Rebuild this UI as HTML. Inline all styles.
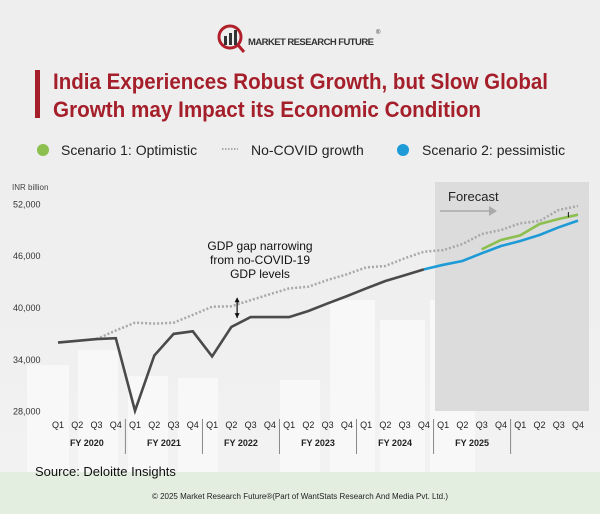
<!DOCTYPE html>
<html><head><meta charset="utf-8"><style>
html,body{margin:0;padding:0;}
body{width:600px;height:514px;overflow:hidden;font-family:"Liberation Sans",sans-serif;}
</style></head><body>
<svg id="chart" width="600" height="514" viewBox="0 0 600 514" xmlns="http://www.w3.org/2000/svg" font-family="Liberation Sans, sans-serif">
<defs>
<linearGradient id="bg" x1="0" y1="0" x2="0" y2="1">
<stop offset="0" stop-color="#eeeeee"/><stop offset="0.6" stop-color="#efefef"/><stop offset="1" stop-color="#f3f3f3"/>
</linearGradient>
</defs>
<rect x="0" y="0" width="600" height="514" fill="url(#bg)"/>
<g fill="#f8f8f8">
<rect x="27" y="365" width="42" height="150"/><rect x="78" y="350" width="40" height="165"/>
<rect x="128" y="376" width="40" height="140"/><rect x="178" y="378" width="40" height="138"/>
<rect x="280" y="380" width="40" height="136"/><rect x="330" y="300" width="45" height="216"/>
<rect x="380" y="320" width="45" height="196"/><rect x="430" y="300" width="45" height="216"/>
</g>
<rect x="0" y="472" width="600" height="42" fill="#e3eee0"/>
<g>
<circle cx="230" cy="37" r="11" fill="none" stroke="#b11f2b" stroke-width="3"/>
<rect x="224" y="36" width="3" height="9" fill="#333"/><rect x="229" y="33" width="3" height="12" fill="#333"/><rect x="234" y="30" width="3" height="15" fill="#333"/>
<line x1="238" y1="45" x2="244" y2="52" stroke="#b11f2b" stroke-width="3"/>
<text x="248" y="45" font-size="9.5" font-weight="bold" fill="#333" textLength="126">MARKET RESEARCH FUTURE</text>
<text x="376" y="34" font-size="6" fill="#333">®</text>
</g>
<rect x="35" y="70" width="5" height="48" fill="#a51f2b"/>
<text x="53" y="89" font-size="22" font-weight="bold" fill="#a51f2b" textLength="495" lengthAdjust="spacingAndGlyphs">India Experiences Robust Growth, but Slow Global</text>
<text x="53" y="117" font-size="22" font-weight="bold" fill="#a51f2b" textLength="428" lengthAdjust="spacingAndGlyphs">Growth may Impact its Economic Condition</text>
<g font-size="14" fill="#222">
<circle cx="43" cy="150" r="6" fill="#8cbf4f"/>
<text x="61" y="155">Scenario 1: Optimistic</text>
<line x1="222" y1="149" x2="238" y2="149" stroke="#aaa" stroke-width="2" stroke-dasharray="1.5,1.5"/>
<text x="251" y="155">No-COVID growth</text>
<circle cx="403" cy="150" r="6" fill="#1e9bd7"/>
<text x="422" y="155">Scenario 2: pessimistic</text>
</g>
<rect x="435" y="182" width="154" height="229" fill="#dcdcdc"/>
<text x="448" y="201" font-size="13" fill="#222">Forecast</text>
<g>
<line x1="440" y1="211" x2="490" y2="211" stroke="#aaa" stroke-width="1.5"/>
<polygon points="489,206 497,211 489,216" fill="#aaa"/>
</g>
<text x="12" y="190" font-size="8" fill="#444">INR billion</text>
<g id="yaxis"></g>
<g id="xaxis"></g>
<g id="series"></g>
<text font-size="12" fill="#111" text-anchor="middle">
<tspan x="260" y="250">GDP gap narrowing</tspan><tspan x="260" y="264">from no-COVID-19</tspan><tspan x="260" y="278">GDP levels</tspan></text>
<g id="ann"></g>
<text x="35" y="476" font-size="13" fill="#111">Source: Deloitte Insights</text>
<text x="300" y="499" font-size="8" fill="#222" text-anchor="middle">© 2025 Market Research Future®(Part of WantStats Research And Media Pvt. Ltd.)</text>
</svg>
<script>
const quarters = ["Q1","Q2","Q3","Q4","Q1","Q2","Q3","Q4","Q1","Q2","Q3","Q4","Q1","Q2","Q3","Q4","Q1","Q2","Q3","Q4","Q1","Q2","Q3","Q4"];
const fiscalYears = ["FY 2020","FY 2021","FY 2022","FY 2023","FY 2024","FY 2025"];
const yTicks = [28000,34000,40000,46000,52000];
const actual = [36000,36200,36400,36500,28100,34500,37000,37300,34400,37800,38950,38950,38950,39650,40530,41380,42270,43120,43800,44470];
const noCovid = [null,null,36400,37400,38300,38200,38300,39200,40150,40200,40900,41600,42270,42460,43240,43900,44700,44860,45750,46520,46700,47400,48560,49030];
const pessimistic = [null,null,null,null,null,null,null,null,null,null,null,null,null,null,null,null,null,null,null,44470,45000,45440,46330,47170,47750,48450,49340,50110];
const optimistic = [null,null,null,null,null,null,null,null,null,null,null,null,null,null,null,null,null,null,null,null,null,null,46790,47870,48400,49720,50300,50800];
// Note: indexes 20..27 in scenario arrays correspond to FY2025 Q1..Q4 then next-year Q1..Q4
const noCovidTail = [49800,50070,51340,51800];

const NS="http://www.w3.org/2000/svg";
const X0=58, XSTEP=(578-58)/27;
function xs(i){return X0+i*XSTEP;}
function ys(v){return 411.7-(v-28000)*(207.4/24000);}
function mk(tag,attrs,parent){const e=document.createElementNS(NS,tag);for(const k in attrs)e.setAttribute(k,attrs[k]);parent.appendChild(e);return e;}

const yaxis=document.getElementById('yaxis');
yTicks.forEach(v=>{
  const t=mk('text',{x:13,y:ys(v)+3,'font-size':9,fill:'#333'},yaxis);
  
  
  t.textContent=v.toLocaleString('en-US');
});

const xaxis=document.getElementById('xaxis');
const allQ = quarters.concat(["Q1","Q2","Q3","Q4"]);
allQ.forEach((q,i)=>{
  const t=mk('text',{x:xs(i),y:428,'font-size':9,fill:'#222','text-anchor':'middle'},xaxis);
  
  
  t.textContent=q;
});
fiscalYears.forEach((fy,j)=>{
  const cx=(xs(j*4)+xs(j*4+3))/2;
  const t=mk('text',{x:cx,y:446,'font-size':9,'font-weight':'bold',fill:'#222','text-anchor':'middle'},xaxis);
  
  
  t.textContent=fy;
});
for(let j=1;j<=6;j++){
  const sx=(xs(j*4-1)+xs(j*4))/2;
  const l=mk('line',{x1:sx,y1:419,x2:sx,y2:454,stroke:'#888','stroke-width':1},xaxis);
  
  
}

function pts(arr){const p=[];arr.forEach((v,i)=>{if(v!=null)p.push(xs(i).toFixed(1)+','+ys(v).toFixed(1));});return p.join(' ');}
const series=document.getElementById('series');
const nc=noCovid.concat(noCovidTail);
const s1=mk('polyline',{points:pts(nc),fill:'none',stroke:'#a8a8a8','stroke-width':2.5,'stroke-dasharray':'2,2'},series);


const s2=mk('polyline',{points:pts(actual),fill:'none',stroke:'#4a4a4a','stroke-width':2.6,'stroke-linejoin':'miter'},series);


const s3=mk('polyline',{points:pts(pessimistic),fill:'none',stroke:'#1e9bd7','stroke-width':2.6},series);


const s4=mk('polyline',{points:pts(optimistic),fill:'none',stroke:'#8cbf4f','stroke-width':2.6},series);



const ann=document.getElementById('ann');
const ax=xs(9.3);
const a1=mk('line',{x1:ax,y1:ys(nc[10])-2,x2:ax,y2:ys(actual[10])+1,stroke:'#111','stroke-width':1.2},ann);


const h1=mk('polygon',{points:`${ax-2.5},${ys(nc[10])+2} ${ax+2.5},${ys(nc[10])+2} ${ax},${ys(nc[10])-3}`,fill:'#111'},ann);


const h2=mk('polygon',{points:`${ax-2.5},${ys(actual[10])-4} ${ax+2.5},${ys(actual[10])-4} ${ax},${ys(actual[10])+1}`,fill:'#111'},ann);


const bx=xs(26.5);
const a2=mk('line',{x1:bx,y1:ys(51100),x2:bx,y2:ys(50500),stroke:'#111','stroke-width':1},ann);


</script>
</body></html>
